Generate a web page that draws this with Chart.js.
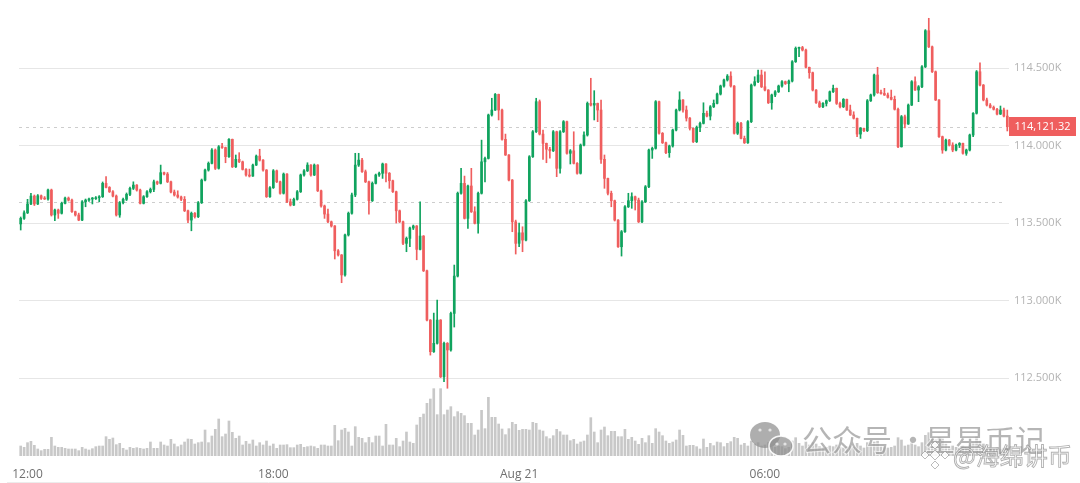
<!DOCTYPE html>
<html><head><meta charset="utf-8">
<script src="https://cdn.jsdelivr.net/npm/chart.js@4"></script>
<style>html,body{margin:0;padding:0;background:#fff;}#wrap{width:1080px;height:483px;position:relative;}</style>
</head><body><div id="wrap"><canvas id="c" width="1080" height="483"></canvas></div>
<script>
// ---- data (BTC/USDT, 5-minute candles, Aug 20 11:50 -> Aug 21 11:55) ----
const startTime = "11:50";
const stepMinutes = 5;

const closeP = [
113530,113566,113623,113674,113623,113676,113659,113655,113713,113552,
113584,113563,113627,113661,113648,113573,113552,113519,113637,113648,
113655,113657,113663,113670,113756,113730,113702,113674,113552,113631,
113653,113685,113724,113745,113713,113627,113670,113702,113717,113766,
113756,113825,113816,113766,113700,113681,113668,113653,113579,113519,
113563,113541,113631,113777,113842,113885,113971,113853,113992,113987,
113928,114040,113863,113911,113895,113846,113810,113803,113874,113932,
113906,113842,113670,113728,113837,113766,113692,113816,113637,113616,
113653,113702,113810,113837,113874,113810,113874,113708,113610,113558,
113508,113481,113321,113294,113165,113423,113563,113681,113874,113906,
113831,113766,113644,113756,113810,113821,113881,113821,113773,113702,
113579,113508,113369,113401,113468,113481,113330,113416,113192,112874,
112670,112724,112874,112508,112724,112681,112917,113158,113692,113756,
113530,113739,113573,113498,113692,113895,113917,114197,114229,114330,
114229,114040,113939,113777,113508,113369,113437,113390,113644,113928,
114089,114283,114074,114014,113976,113966,114089,113853,114089,114154,
113950,113966,113885,113821,114003,114068,114272,114261,114272,114229,
113911,113788,113692,113644,113519,113347,113444,113605,113644,113670,
113648,113508,113637,113734,113971,113982,114283,114079,114018,113954,
113997,114100,114229,114294,114229,114177,114111,114025,114117,114143,
114208,114190,114250,114272,114332,114384,114423,114448,114384,114079,
114143,114046,114018,114154,114390,114412,114455,114379,114358,114276,
114326,114347,114384,114412,114400,114416,114541,114627,114632,114616,
114505,114470,114358,114276,114250,114272,114289,114347,114369,114272,
114250,114298,114229,114197,114176,114074,114111,114096,114289,114326,
114455,114341,114336,114326,114311,114298,114234,113992,114186,114139,
114261,114412,114358,114379,114508,114741,114637,114476,114294,114057,
113971,114035,114003,113971,114003,114014,113950,113971,114068,114208,
114476,114390,114294,114261,114246,114234,114203,114229,114190,114121.32
];

const openP = [
113494,113530,113566,113623,113674,113623,113676,113659,113655,113713,
113552,113584,113563,113627,113661,113648,113573,113552,113519,113637,
113648,113655,113657,113663,113670,113756,113730,113702,113674,113552,
113631,113653,113685,113724,113745,113713,113627,113670,113702,113717,
113766,113756,113825,113816,113766,113700,113681,113668,113653,113579,
113519,113563,113541,113631,113777,113842,113885,113971,113853,113992,
113987,113928,114040,113863,113911,113895,113846,113810,113803,113874,
113932,113906,113842,113670,113728,113837,113766,113692,113816,113637,
113616,113653,113702,113810,113837,113874,113810,113874,113708,113610,
113558,113508,113481,113321,113294,113165,113423,113563,113681,113874,
113906,113831,113766,113644,113756,113810,113821,113881,113821,113773,
113702,113579,113508,113369,113401,113468,113481,113330,113416,113192,
112874,112670,112724,112874,112508,112724,112681,112917,113158,113692,
113756,113530,113739,113573,113498,113692,113895,113917,114197,114229,
114330,114229,114040,113939,113777,113508,113369,113437,113390,113644,
113928,114089,114283,114074,114014,113976,113966,114089,113853,114089,
114154,113950,113966,113885,113821,114003,114068,114272,114261,114272,
114229,113911,113788,113692,113644,113519,113347,113444,113605,113644,
113670,113648,113508,113637,113734,113971,113982,114283,114079,114018,
113954,113997,114100,114229,114294,114229,114177,114111,114025,114117,
114143,114208,114190,114250,114272,114332,114384,114423,114448,114384,
114079,114143,114046,114018,114154,114390,114412,114455,114379,114358,
114276,114326,114347,114384,114412,114400,114416,114541,114627,114632,
114616,114505,114470,114358,114276,114250,114272,114289,114347,114369,
114272,114250,114298,114229,114197,114176,114074,114111,114096,114289,
114326,114455,114341,114336,114326,114311,114298,114234,113992,114186,
114139,114261,114412,114358,114379,114508,114741,114637,114476,114294,
114057,113971,114035,114003,113971,114003,114014,113950,113971,114068,
114208,114476,114390,114294,114261,114246,114234,114203,114229,114190
];

const highP = [
113539,113579,113653,113692,113681,113684,113681,113671,113719,113719,
113590,113590,113635,113668,113668,113655,113577,113564,113645,113655,
113661,113665,113671,113677,113765,113799,113735,113710,113681,113639,
113661,113694,113732,113766,113748,113719,113677,113710,113726,113777,
113771,113874,113829,113826,113771,113713,113708,113674,113671,113584,
113571,113568,113639,113784,113848,113894,113981,113978,114000,114014,
113990,114045,114042,113939,113954,113900,113852,113848,113881,113939,
113976,113910,113845,113735,113845,113842,113771,113823,113819,113655,
113661,113710,113816,113845,113889,113877,113881,113877,113713,113616,
113590,113513,113484,113329,113297,113429,113571,113694,113950,113950,
113917,113842,113771,113765,113816,113829,113887,113884,113826,113777,
113706,113584,113513,113410,113474,113487,113484,113637,113419,113197,
112877,112919,113003,112877,112732,112729,112926,113229,113700,113853,
113803,113745,113853,113605,113700,114035,113926,114203,114305,114336,
114332,114236,114074,113942,113781,113519,113500,113476,113652,113935,
114097,114305,114294,114100,114016,113988,114097,114093,114097,114161,
114158,113974,114089,113890,114010,114089,114281,114434,114354,114274,
114294,113939,113790,113706,113648,113523,113452,113613,113692,113695,
113674,113661,113645,113742,113977,113990,114290,114287,114084,114023,
114003,114106,114236,114347,114297,114255,114181,114113,114126,114152,
114276,114223,114258,114294,114339,114390,114429,114458,114476,114387,
114152,114150,114061,114161,114397,114444,114487,114487,114476,114361,
114332,114355,114390,114419,114416,114423,114548,114636,114636,114640,
114623,114506,114474,114361,114287,114277,114294,114352,114390,114371,
114281,114303,114300,114261,114218,114177,114116,114113,114297,114332,
114461,114505,114358,114369,114339,114358,114319,114242,114194,114197,
114268,114419,114444,114387,114516,114748,114821,114642,114481,114297,
114061,114042,114040,114018,114010,114019,114016,113977,114074,114213,
114484,114534,114394,114306,114271,114255,114240,114255,114242,114229
];

const lowP = [
113455,113523,113561,113619,113613,113619,113652,113652,113648,113545,
113515,113530,113558,113623,113642,113568,113545,113515,113516,113605,
113639,113623,113652,113637,113665,113726,113697,113668,113545,113537,
113623,113645,113677,113716,113706,113623,113623,113665,113694,113703,
113748,113752,113810,113761,113694,113674,113661,113645,113574,113502,
113450,113532,113535,113626,113771,113835,113881,113845,113848,113981,
113889,113923,113858,113858,113890,113842,113803,113797,113800,113871,
113900,113835,113665,113665,113723,113761,113687,113687,113632,113610,
113613,113648,113697,113803,113832,113803,113806,113703,113603,113530,
113503,113474,113268,113287,113115,113158,113416,113558,113670,113865,
113826,113761,113558,113639,113752,113800,113788,113766,113724,113697,
113500,113503,113361,113315,113347,113458,113263,113326,113187,112868,
112648,112665,112719,112503,112476,112434,112674,112829,113152,113687,
113526,113466,113568,113494,113434,113687,113766,113913,114190,114226,
114165,114035,113936,113771,113444,113300,113347,113315,113384,113639,
113923,114084,114068,113911,113889,113919,113961,113799,113821,114084,
113945,113881,113881,113816,113816,113997,114061,114255,114165,114154,
113885,113724,113681,113605,113513,113342,113287,113439,113600,113595,
113584,113503,113503,113632,113729,113917,113977,114074,114013,113948,
113924,113990,114094,114223,114216,114158,114100,114019,114019,114089,
114139,114184,114165,114245,114268,114326,114377,114416,114377,114074,
114071,114042,114013,114013,114148,114384,114406,114374,114352,114271,
114234,114316,114342,114377,114394,114347,114410,114536,114573,114610,
114500,114434,114352,114271,114245,114245,114255,114284,114342,114265,
114242,114245,114226,114194,114171,114057,114046,114090,114090,114284,
114319,114336,114332,114323,114306,114294,114229,113987,113990,114113,
114136,114258,114355,114283,114374,114503,114632,114471,114290,114052,
113950,113965,113997,113960,113965,113987,113945,113937,113965,114058,
114203,114384,114288,114255,114242,114229,114197,114200,114184,114094
];

const volume = [
30,26,40,44,32,21,16,20,20,56, 30,26,26,23,21,21,21,16,26,21,
18,22,28,30,30,58,50,54,34,38, 23,18,26,23,25,23,21,23,42,23,
23,42,33,30,50,36,28,33,42,51, 50,36,40,42,78,40,60,80,111,58,
66,105,71,53,60,33,44,36,48,30, 40,33,45,30,36,23,33,33,34,25,
25,33,35,26,28,30,28,23,33,33, 30,30,92,46,78,83,72,30,88,
56,53,40,56,40,60,60,30,95,33, 33,53,28,45,72,42,38,93,116,126,
158,171,202,124,202,124,138,148,118,133, 128,121,98,98,63,78,137,82,176,116,
116,96,81,64,82,101,95,77,80,80, 78,101,98,78,75,58,52,61,80,73,
63,63,46,50,36,42,45,63,115,72, 40,78,87,61,74,74,58,58,80,50,
56,45,35,53,40,61,38,82,72,61, 45,38,42,48,78,62,30,32,32,28,
21,51,26,38,31,42,
40,28,38,43,56,53,33,38,30,45, 36,40,30,33,40,28,26,30,28,22,
26,45,55,38,30,42,33,40,36,28, 25,26,30,28,33,26,24,28,30,26,
38,30,24,40,30,42,45,28,25,24, 26,30,55,48,30,33,40,33,28,40,
62,70,50,48,56,52,36,28,30,26, 24,30,26,33,40,58,45,36,30,25,
22,26,20,24,28
];

const lastPrice = 114121.32;
const refPrice = 113635;
const yTickValues = [112500, 113000, 113500, 114000, 114500];
const xTickText = {"12:00": "12:00", "18:00": "18:00", "00:00": "Aug 21", "06:00": "06:00"};
const priceRange = [111997, 114939];
const volumeRange = [0, 1368];

// ---- build ----
const labels = [];
{
  let [hh, mm] = startTime.split(':').map(Number);
  for (let i = 0; i < closeP.length; i++) {
    labels.push(String(hh).padStart(2, '0') + ':' + String(mm).padStart(2, '0'));
    mm += stepMinutes; if (mm >= 60) { mm -= 60; hh = (hh + 1) % 24; }
  }
}
const GREEN = '#10a35e', RED = '#ef5e5e';
const colors = closeP.map((c, i) => c >= openP[i] ? GREEN : RED);

function fmtPrice(v) {
  const [a, b] = v.toFixed(2).split('.');
  return a.replace(/\B(?=(\d{3})+(?!\d))/g, ',') + '.' + b;
}

const overlay = {
  id: 'overlay',
  beforeDatasetsDraw(chart) {
    const {ctx, chartArea: a, scales: {y}} = chart;
    ctx.save();
    ctx.strokeStyle = '#cdcdcd'; ctx.lineWidth = 1; ctx.setLineDash([3, 4]);
    [lastPrice, refPrice].forEach(v => {
      const py = Math.round(y.getPixelForValue(v)) + 0.5;
      ctx.beginPath(); ctx.moveTo(a.left, py); ctx.lineTo(a.right - 3, py); ctx.stroke();
    });
    ctx.restore();
  },
  afterDraw(chart) {
    const {ctx, chartArea: a, scales: {y}} = chart;
    const py = y.getPixelForValue(lastPrice);
    ctx.save();
    // last price tag
    ctx.fillStyle = RED;
    ctx.fillRect(a.right, Math.round(py - 9.5), 67, 19);
    ctx.fillStyle = '#ffffff';
    ctx.font = '11px "Open Sans"';
    ctx.textBaseline = 'middle'; ctx.textAlign = 'center';
    ctx.fillText(fmtPrice(lastPrice), a.right + 33.5, py + 0.5);
    // bottom rule
    ctx.strokeStyle = '#ececec'; ctx.lineWidth = 1;
    ctx.beginPath(); ctx.moveTo(7, 482.5); ctx.lineTo(530, 482.5); ctx.stroke();

    // watermark 1: WeChat icon + text
    ctx.fillStyle = 'rgba(140,140,140,0.7)';
    ctx.beginPath(); ctx.ellipse(765, 435, 15, 13, 0, 0, Math.PI * 2); ctx.fill();
    ctx.strokeStyle = 'rgba(255,255,255,0.9)'; ctx.lineWidth = 1.5;
    ctx.beginPath(); ctx.ellipse(781, 446, 12, 10, 0, 0, Math.PI * 2); ctx.fill(); ctx.stroke();
    ctx.fillStyle = 'rgba(235,235,235,0.9)';
    [[760, 430], [770, 430], [777, 444], [785, 444]].forEach(([x, yy]) => { ctx.beginPath(); ctx.arc(x, yy, 1.6, 0, Math.PI * 2); ctx.fill(); });

    ctx.font = '30px "Noto Sans CJK SC"';
    ctx.textBaseline = 'alphabetic'; ctx.textAlign = 'left';
    ctx.lineWidth = 2; ctx.strokeStyle = 'rgba(255,255,255,0.6)';
    ctx.fillStyle = 'rgba(120,120,120,0.55)';
    [['公众号', 802], ['·', 898], ['星星币记', 925]].forEach(([t, x]) => { ctx.strokeText(t, x, 451); ctx.fillText(t, x, 451); });

    // watermark 2: logo + handle
    const dia = (cx, cy, r) => { ctx.beginPath(); ctx.moveTo(cx, cy - r); ctx.lineTo(cx + r, cy); ctx.lineTo(cx, cy + r); ctx.lineTo(cx - r, cy); ctx.closePath(); ctx.fill(); ctx.stroke(); };
    ctx.fillStyle = 'rgba(255,255,255,0.85)'; ctx.strokeStyle = 'rgba(120,120,120,0.5)'; ctx.lineWidth = 1;
    dia(935, 445, 4); dia(935, 465, 4); dia(925, 455, 4); dia(945, 455, 4); dia(935, 455, 5);
    ctx.font = '24px "Noto Sans CJK SC"';
    ctx.fillStyle = 'rgba(255,255,255,0.85)';
    ctx.fillText('@海绵讲币', 953, 465);
    ctx.lineWidth = 0.9; ctx.strokeStyle = 'rgba(100,100,100,0.5)';
    ctx.strokeText('@海绵讲币', 953, 465);
    ctx.restore();
  }
};

new Chart(document.getElementById('c'), {
  type: 'bar',
  data: {
    labels,
    datasets: [
      {label: 'body', data: openP.map((o, i) => [o, closeP[i]]), backgroundColor: colors, barThickness: 2, minBarLength: 1, grouped: false, yAxisID: 'y', order: 0},
      {label: 'wick', data: lowP.map((l, i) => [l, highP[i]]), backgroundColor: colors, barThickness: 1, grouped: false, yAxisID: 'y', order: 1},
      {label: 'volume', data: volume, backgroundColor: '#c8c8c8', barThickness: 2, grouped: false, yAxisID: 'yv', order: 2}
    ]
  },
  options: {
    responsive: false, animation: false, devicePixelRatio: 1,
    layout: {padding: {left: 19, right: 0, top: 0, bottom: 0}},
    plugins: {legend: {display: false}, tooltip: {enabled: false}},
    scales: {
      x: {
        offset: true,
        grid: {display: false}, border: {display: false},
        ticks: {autoSkip: false, maxRotation: 0, minRotation: 0, padding: 3, color: '#707070',
          font: {family: 'Open Sans', size: 12},
          callback: (v, i) => xTickText[labels[i]] || ''},
        afterFit(s) { s.height = 27; s.paddingLeft = 0; s.paddingRight = 0; }
      },
      y: {
        position: 'right', min: priceRange[0], max: priceRange[1],
        grid: {color: '#e6e6e6', drawTicks: false}, border: {display: false},
        ticks: {padding: 5, color: '#b3b3b3', font: {family: 'Open Sans', size: 11},
          callback: v => (v / 1000).toFixed(3) + 'K'},
        afterBuildTicks(s) { s.ticks = yTickValues.map(v => ({value: v})); },
        afterFit(s) { s.width = 71; s.paddingTop = 0; s.paddingBottom = 0; }
      },
      yv: {display: false, position: 'left', min: volumeRange[0], max: volumeRange[1]}
    }
  },
  plugins: [overlay]
});
</script></body></html>
